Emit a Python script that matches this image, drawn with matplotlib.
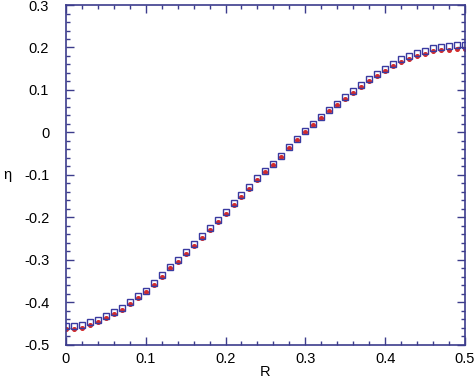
import numpy as np
import matplotlib.pyplot as plt
from matplotlib.ticker import MultipleLocator

# Dados
R = [i / 100 for i in range(51)]

eta_blue = [-0.455, -0.455, -0.453, -0.447, -0.442, -0.431, -0.422, -0.412, -0.399, -0.385,
            -0.372, -0.354, -0.336, -0.316, -0.300, -0.281, -0.263, -0.244, -0.225, -0.207,
            -0.188, -0.167, -0.148, -0.129, -0.108, -0.090, -0.073, -0.055, -0.034, -0.015,
            0.003, 0.021, 0.036, 0.053, 0.068, 0.083, 0.098, 0.112, 0.125, 0.138,
            0.149, 0.162, 0.172, 0.179, 0.186, 0.192, 0.199, 0.201, 0.203, 0.205,
            0.206]

eta_red = [-0.462, -0.462, -0.459, -0.453, -0.447, -0.436, -0.427, -0.417, -0.404, -0.389,
           -0.376, -0.358, -0.340, -0.320, -0.304, -0.285, -0.267, -0.248, -0.229, -0.210,
           -0.191, -0.170, -0.151, -0.132, -0.111, -0.093, -0.076, -0.058, -0.037, -0.018,
           0.000, 0.018, 0.033, 0.050, 0.065, 0.079, 0.094, 0.108, 0.120, 0.133,
           0.144, 0.156, 0.165, 0.172, 0.179, 0.185, 0.191, 0.193, 0.195, 0.197,
           0.197]

plt.rcParams['font.family'] = ['Liberation Sans', 'DejaVu Sans']
axis_color = '#3c3c8c'

fig = plt.figure(figsize=(4.74, 3.85), dpi=100)
ax = fig.add_axes([0.139, 0.104, 0.842, 0.883])

ax.plot(R, eta_red, 'o', color='#d42a2a', markersize=2.6, zorder=2)
ax.plot(R, eta_blue, 's', markerfacecolor='none', markeredgecolor='#3a3aa0',
        markersize=4.4, markeredgewidth=1.0, zorder=3)

ax.set_xlim(0, 0.5)
ax.set_ylim(-0.5, 0.3)
ax.xaxis.set_minor_locator(MultipleLocator(0.02))
ax.yaxis.set_minor_locator(MultipleLocator(0.02))
ax.set_xticks([0, 0.1, 0.2, 0.3, 0.4, 0.5])
ax.set_xticklabels(['0', '0.1', '0.2', '0.3', '0.4', '0.5'])
ax.set_yticks([-0.5, -0.4, -0.3, -0.2, -0.1, 0, 0.1, 0.2, 0.3])
ax.set_yticklabels(['-0.5', '-0.4', '-0.3', '-0.2', '-0.1', '0', '0.1', '0.2', '0.3'])

ax.tick_params(which='both', direction='in', top=True, right=True, color=axis_color,
               labelsize=10.5, width=1)
ax.tick_params(which='major', length=6)
ax.tick_params(axis='y', which='major', pad=12)
ax.tick_params(axis='x', which='major', pad=5)
ax.tick_params(which='minor', length=3)
for s in ax.spines.values():
    s.set_color(axis_color)
    s.set_linewidth(1.2)

ax.set_xlabel('R', fontsize=10.5, labelpad=-1)
ax.set_ylabel('η', fontsize=10.5, rotation=0)
ax.yaxis.set_label_coords(-0.148, 0.48)

fig.savefig('out.png', dpi=100)
